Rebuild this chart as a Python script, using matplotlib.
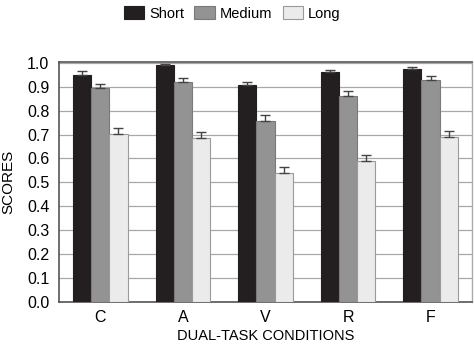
import matplotlib
matplotlib.use("Agg")
import matplotlib.pyplot as plt
import numpy as np

plt.rcParams['font.family'] = ['Liberation Sans', 'DejaVu Sans']

categories = ["C", "A", "V", "R", "F"]
series_names = ["Short", "Medium", "Long"]
short_vals = [0.950, 0.990, 0.905, 0.960, 0.975]
medium_vals = [0.893, 0.918, 0.757, 0.862, 0.927]
long_vals = [0.703, 0.686, 0.540, 0.590, 0.690]
short_err = [0.015, 0.006, 0.015, 0.010, 0.008]
medium_err = [0.017, 0.017, 0.023, 0.021, 0.016]
long_err = [0.024, 0.026, 0.025, 0.026, 0.026]
yticks = [0.0, 0.1, 0.2, 0.3, 0.4, 0.5, 0.6, 0.7, 0.8, 0.9, 1.0]

fig = plt.figure(figsize=(4.74, 3.45), dpi=100)
ax = fig.add_axes([0.1245, 0.1246, 0.871, 0.697])

x = np.arange(len(categories))
w = 0.22
fills = ["#231f20", "#939393", "#ebebeb"]
edges = ["#231f20", "#7a7a7a", "#9a9a9a"]
vals = [short_vals, medium_vals, long_vals]
errs = [short_err, medium_err, long_err]
for i in range(3):
    ax.bar(x + (i - 1) * w, vals[i], w, color=fills[i], edgecolor=edges[i],
           linewidth=0.8, label=series_names[i], zorder=3,
           yerr=[np.zeros(len(categories)), errs[i]],
           error_kw=dict(ecolor="#444444", elinewidth=1.0, capsize=3.5, capthick=1.0, zorder=4))

ax.set_xlim(-0.5, 4.5)
ax.set_ylim(0, 1.005)
ax.set_yticks(yticks)
ax.set_yticklabels([f"{t:.1f}" for t in yticks], fontsize=11.5)
ax.set_xticks(x)
ax.set_xticklabels(categories, fontsize=11.5)
ax.tick_params(axis='y', length=0, pad=7)
ax.tick_params(axis='x', length=0, pad=6)
ax.yaxis.grid(True, color="#a8a8a8", linewidth=0.9, zorder=0)
ax.set_axisbelow(True)
for s in ["left", "bottom", "top"]:
    ax.spines[s].set_color("#555555")
    ax.spines[s].set_linewidth(1.2)
ax.spines["right"].set_color("#aaaaaa")
ax.spines["right"].set_linewidth(1.0)

ax.set_ylabel("SCORES", fontsize=11, labelpad=8)
fig.text(0.56, 2 / 345, "DUAL-TASK CONDITIONS", fontsize=10.5, ha="center", va="bottom")

fig.legend(loc="upper center", bbox_to_anchor=(0.49, 1.02), ncol=3, frameon=False,
           fontsize=10.5, handlelength=1.4, handleheight=1.0, handletextpad=0.35,
           columnspacing=0.7)

fig.savefig("out.png", dpi=100)
